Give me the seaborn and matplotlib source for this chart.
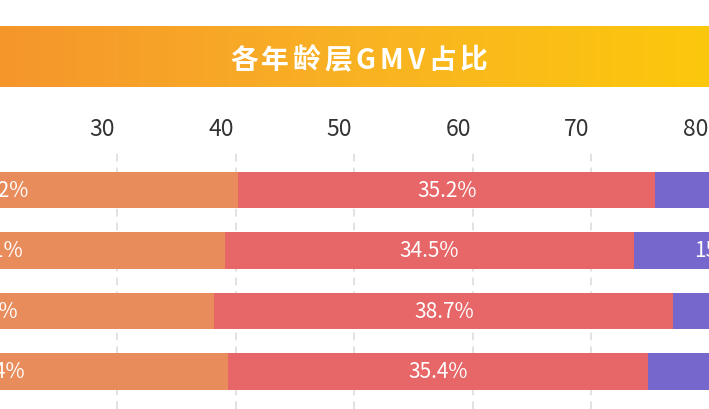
import numpy as np
import pandas as pd
import matplotlib
matplotlib.use("Agg")
import matplotlib.pyplot as plt
import seaborn as sns
from matplotlib.colors import LinearSegmentedColormap
from matplotlib.transforms import ScaledTranslation

# ---------------- data ----------------
rows = ["A", "B", "C", "D"]                      # row categories (cut off at the left in the reference)
segments = ["18-24岁", "25-30岁", "31-40岁", "41岁以上"]
seg1 = [40.2, 39.1, 38.2, 39.4]
seg2 = [35.2, 34.5, 38.7, 35.4]
seg3 = [14.6, 15.2, 13.3, 15.6]
seg4 = [10.0, 11.2, 9.8, 9.6]
seg_colors = ["#E98C5C", "#E76769", "#7567CC", "#4F9BE6"]
xticks = [0, 10, 20, 30, 40, 50, 60, 70, 80, 90, 100]
title = "各年龄层GMV占比"

# ---------------- style ----------------
sns.set_theme(style="white")
plt.rcParams["font.family"] = ["Noto Sans CJK SC", "DejaVu Sans"]

W, H, DPI = 709, 410, 100
fig = plt.figure(figsize=(W / DPI, H / DPI), dpi=DPI)
fig.patch.set_facecolor("white")

# ---------------- banner ----------------
ban_top, ban_bot = 27.3, 88.3
bax = fig.add_axes([0, 1 - ban_bot / H, 1, (ban_bot - ban_top) / H])
cmap = LinearSegmentedColormap.from_list("ban", ["#F5962C", "#F9B223", "#FCC80C"])
bax.imshow(np.linspace(0, 1, 256)[None, :], aspect="auto", cmap=cmap, extent=[0, 1, 0, 1])
bax.set_axis_off()

# title with letter spacing
renderer = fig.canvas.get_renderer()
tprops = dict(color="white", fontsize=20, fontweight="bold", va="center", ha="left")
ty = 1 - 60.8 / H
widths = []
for ch in title:
    t = fig.text(0, 0, ch, **tprops)
    bb = t.get_window_extent(renderer)
    widths.append(bb.width)
    t.remove()
target_w = 257.0
track = (target_w - sum(widths)) / (len(title) - 1)
x = 230.0
for ch, w in zip(title, widths):
    fig.text(x / W, ty, ch, **tprops)
    x += w + track

# ---------------- main axes ----------------
x0_px = -238.8
px_per_unit = 11.86
ax_top = 149.0
left = x0_px / W
width = 100 * px_per_unit / W
ax = fig.add_axes([left, 0, width, (H - ax_top) / H])

cums = np.cumsum(np.array([seg1, seg2, seg3, seg4]), axis=0)

for k in range(3, -1, -1):
    d = pd.DataFrame({"row": rows, "val": cums[k]})
    sns.barplot(data=d, x="val", y="row", color=seg_colors[k], orient="h",
                width=0.607, saturation=1, linewidth=0, edgecolor="none",
                ax=ax, zorder=3)

# gridlines
for xv in xticks:
    ax.axvline(xv, color="#DADADA", lw=1.1, ls=(0, (5, 4)), zorder=1)

# labels in segments
segvals = [seg1, seg2, seg3, seg4]
for k in range(4):
    for i in range(len(rows)):
        start = cums[k][i] - segvals[k][i]
        ax.text(start + segvals[k][i] / 2, i, f"{segvals[k][i]:.1f}%",
                color="white", fontsize=15, ha="center", va="center", zorder=5)

ax.set_xlim(0, 100)
ax.set_ylim(3.62, -0.694)
ax.xaxis.tick_top()
ax.set_xticks(xticks)
ax.set_xticklabels([str(v) for v in xticks], fontsize=16.5, color="#333333")
ax.tick_params(axis="x", length=0, pad=6)
off = ScaledTranslation(-2 / DPI, 0, fig.dpi_scale_trans)
for lab in ax.get_xticklabels():
    lab.set_horizontalalignment("right")
    lab.set_transform(lab.get_transform() + off)
ax.set_yticks([])
ax.set_xlabel("")
ax.set_ylabel("")
for s in ax.spines.values():
    s.set_visible(False)
ax.set_facecolor("none")

fig.savefig("out.png", dpi=DPI, facecolor="white")
